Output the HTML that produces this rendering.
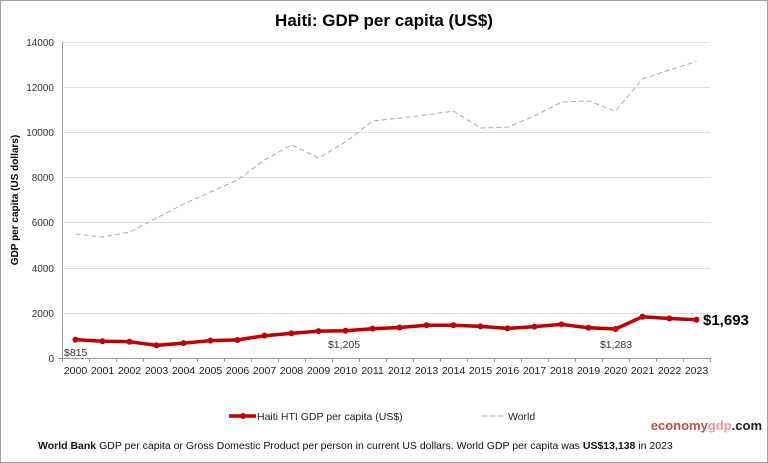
<!DOCTYPE html>
<html><head><meta charset="utf-8"><style>
body{margin:0;background:#fff}
svg{display:block;font-family:"Liberation Sans",Arial,sans-serif}
</style></head><body>
<svg width="768" height="463" viewBox="0 0 768 463" xmlns="http://www.w3.org/2000/svg">
<rect x="0.5" y="0.5" width="767" height="462" fill="#fff" stroke="#a0a0a0"/>
<text x="384" y="26" text-anchor="middle" font-size="17" font-weight="bold" fill="#000">Haiti: GDP per capita (US$)</text>
<g stroke="#e0e0e0" stroke-width="1">
<line x1="62" x2="710" y1="42.5" y2="42.5"/><line x1="62" x2="710" y1="87.5" y2="87.5"/>
<line x1="62" x2="710" y1="132.5" y2="132.5"/><line x1="62" x2="710" y1="177.5" y2="177.5"/>
<line x1="62" x2="710" y1="222.5" y2="222.5"/><line x1="62" x2="710" y1="268.5" y2="268.5"/>
<line x1="62" x2="710" y1="313.5" y2="313.5"/>
</g>
<g stroke="#999"><line x1="62.5" y1="42" x2="62.5" y2="362"/><line x1="58" y1="358.5" x2="710" y2="358.5"/></g>
<g font-size="10" fill="#333" text-anchor="end">
<text x="54" y="46">14000</text><text x="54" y="91">12000</text><text x="54" y="136">10000</text>
<text x="54" y="181">8000</text><text x="54" y="226">6000</text><text x="54" y="272">4000</text>
<text x="54" y="317">2000</text><text x="54" y="362">0</text>
</g>
<text transform="translate(18,200) rotate(-90)" text-anchor="middle" font-size="10" font-weight="bold" fill="#000">GDP per capita (US dollars)</text>
<g stroke="#999" id="ticks"></g>
<g font-size="10.5" fill="#222" text-anchor="middle" id="xl"></g>
<polyline id="world" fill="none" stroke="#aaa" stroke-width="1" stroke-dasharray="5,3"/>
<polyline id="haiti" fill="none" stroke="#c00000" stroke-width="3.5" stroke-linejoin="round"/>
<g id="dots" fill="#c00000"></g>
<text x="64" y="356" font-size="10.5" fill="#333">$815</text>
<text x="344" y="348" font-size="10.5" fill="#333" text-anchor="middle">$1,205</text>
<text x="616" y="348" font-size="10.5" fill="#333" text-anchor="middle">$1,283</text>
<text x="703" y="325" font-size="15" font-weight="bold" fill="#000">$1,693</text>
<line x1="229" y1="416" x2="256" y2="416" stroke="#c00000" stroke-width="3.5"/>
<circle cx="243" cy="416" r="3" fill="#c00000"/>
<text x="257" y="420" font-size="10.5" fill="#222">Haiti HTI GDP per capita (US$)</text>
<line x1="482" y1="416" x2="506" y2="416" stroke="#aaa" stroke-dasharray="5,3"/>
<text x="508" y="420" font-size="10.5" fill="#222">World</text>
<text x="762" y="430" text-anchor="end" font-size="13" font-weight="bold"><tspan fill="#c0504d">economy</tspan><tspan fill="#e49b9b">gdp</tspan><tspan fill="#222">.com</tspan></text>
<text x="38" y="449" font-size="10.5" fill="#111"><tspan font-weight="bold">World Bank</tspan> GDP per capita or Gross Domestic Product per person in current US dollars.   World GDP per capita was <tspan font-weight="bold">US$13,138</tspan>  in 2023</text>
</svg>
<script>
var h=[815,740,720,560,660,770,800,990,1090,1190,1205,1300,1350,1450,1450,1400,1310,1390,1490,1340,1283,1830,1750,1693];
var w=[5494,5360,5580,6200,6820,7355,7890,8770,9440,8860,9570,10500,10630,10770,10940,10190,10230,10720,11340,11390,10940,12360,12760,13138];
var Y=v=>358-v*0.02257,X=i=>75.5+27*i,ns="http://www.w3.org/2000/svg";
var hp=[],wp=[],t=document.getElementById('ticks'),xl=document.getElementById('xl'),d=document.getElementById('dots');
for(var i=0;i<24;i++){hp.push(X(i)+","+Y(h[i]).toFixed(1));wp.push(X(i)+","+Y(w[i]).toFixed(1));
var c=document.createElementNS(ns,'circle');c.setAttribute('cx',X(i));c.setAttribute('cy',Y(h[i]));c.setAttribute('r',3);d.appendChild(c);
var tx=document.createElementNS(ns,'text');tx.setAttribute('x',X(i));tx.setAttribute('y',374);tx.textContent=2000+i;xl.appendChild(tx);}
for(var i=0;i<=24;i++){var l=document.createElementNS(ns,'line');var x=62.5+27*i;l.setAttribute('x1',x);l.setAttribute('x2',x);l.setAttribute('y1',358);l.setAttribute('y2',362);t.appendChild(l);}
document.getElementById('haiti').setAttribute('points',hp.join(' '));
document.getElementById('world').setAttribute('points',wp.join(' '));
</script>
</body></html>
